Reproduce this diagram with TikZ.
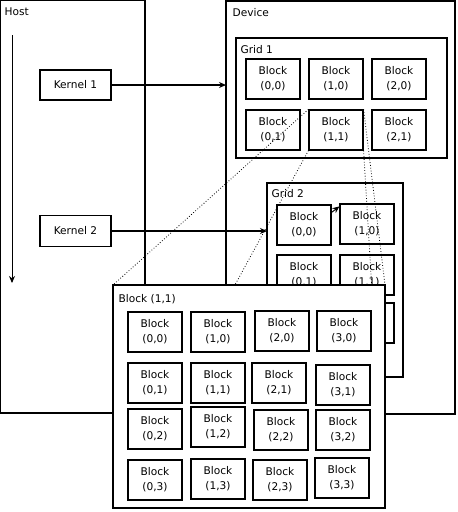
\documentclass[tikz,border=0pt]{standalone}
\usepackage{fontspec}
\setmainfont{DejaVu Sans}
\usetikzlibrary{arrows.meta,backgrounds}
\begin{document}
\begin{tikzpicture}[x=1pt, y=-1pt, line width=1.2pt,
    box/.style={draw, inner sep=0pt, outer sep=0pt, anchor=north west},
    blk/.style={draw, inner sep=0pt, minimum width=54pt, minimum height=40pt, align=center, font=\fontsize{10.6}{15}\selectfont},
    lbl/.style={anchor=base west, inner sep=0pt, font=\fontsize{10.6}{12}\selectfont},
    arr/.style={-{Stealth[length=7pt, width=6pt]}}]
  \useasboundingbox (0,0) rectangle (458,512);

  % host side
  \node[box, minimum width=145pt, minimum height=413pt] (host) at (0,0) {};
  \node[lbl] (hostlbl) at (4,15) {Host};
  \node[box, anchor=center, minimum width=71pt, minimum height=30pt, font=\fontsize{10.6}{12}\selectfont] (k1) at (75.5,85) {Kernel 1};
  \node[box, anchor=center, minimum width=71pt, minimum height=31pt, font=\fontsize{10.6}{12}\selectfont] (k2) at (75.5,231) {Kernel 2};
  \coordinate (tl0) at (12,35);
  \coordinate (tl1) at (12,283);
  \draw[arr, line width=0.9pt] (tl0) -- (tl1);

  % device side
  \node[box, minimum width=229pt, minimum height=413pt] (dev) at (226,1) {};
  \node[lbl] (devlbl) at (232,16) {Device};

  \node[box, minimum width=211pt, minimum height=120pt] (g1) at (236,38) {};
  \node[lbl] (g1lbl) at (240,53) {Grid 1};
  \node[blk] (g1b00) at (273,79) {Block\\(0,0)};
  \node[blk] (g1b10) at (336,79) {Block\\(1,0)};
  \node[blk] (g1b20) at (399,79) {Block\\(2,0)};
  \node[blk] (g1b01) at (273,130) {Block\\(0,1)};
  \node[blk] (g1b11) at (336,130) {Block\\(1,1)};
  \node[blk] (g1b21) at (399,130) {Block\\(2,1)};

  \node[box, minimum width=136pt, minimum height=194pt] (g2) at (267,183) {};
  \node[lbl] (g2lbl) at (271,197) {Grid 2};
  \node[blk] (g2b00) at (304,225) {Block\\(0,0)};
  \node[blk] (g2b10) at (367,224) {Block\\(1,0)};
  \node[blk] (g2b01) at (304,275) {Block\\(0,1)};
  \node[blk] (g2b11) at (367,275) {Block\\(1,1)};
  \node[blk] (g2b02) at (304,323) {};
  \node[blk] (g2b12) at (367,323) {};

  \draw[arr, line width=1.6pt] (k1) -- (k1 -| dev.west);
  \draw[arr, line width=1.6pt] (k2) -- (k2 -| g2.west);
  \draw[arr, line width=0.9pt] ([yshift=-8pt]g2b00.north east) -- ([yshift=-3pt]g2b10.north west);

  % zoomed block
  \node[box, fill=white, minimum width=272pt, minimum height=223pt] (bb) at (113,285) {};
  \node[lbl] (bblbl) at (118,302) {Block (1,1)};
  \node[blk] (b00) at (155,332) {Block\\(0,0)};
  \node[blk] (b10) at (218,332) {Block\\(1,0)};
  \node[blk] (b20) at (282,331) {Block\\(2,0)};
  \node[blk] (b30) at (344,331) {Block\\(3,0)};
  \node[blk] (b01) at (155,383) {Block\\(0,1)};
  \node[blk] (b11) at (218,383) {Block\\(1,1)};
  \node[blk] (b21) at (279,383) {Block\\(2,1)};
  \node[blk] (b31) at (343,385) {Block\\(3,1)};
  \node[blk] (b02) at (155,429) {Block\\(0,2)};
  \node[blk] (b12) at (218,427) {Block\\(1,2)};
  \node[blk] (b22) at (281,430) {Block\\(2,2)};
  \node[blk] (b32) at (343,430) {Block\\(3,2)};
  \node[blk] (b03) at (155,480) {Block\\(0,3)};
  \node[blk] (b13) at (218,479) {Block\\(1,3)};
  \node[blk] (b23) at (280,480) {Block\\(2,3)};
  \node[blk] (b33) at (342,478) {Block\\(3,3)};

  \begin{pgfonlayer}{background}
    \draw[dotted, line width=0.8pt] (g1b11.north west) -- (bb.north west);
    \draw[dotted, line width=0.8pt] (g1b11.south west) -- (bb.south west);
    \draw[dotted, line width=0.8pt] (g1b11.north east) -- (bb.north east);
    \draw[dotted, line width=0.8pt] (g1b11.south east) -- (bb.south east);
  \end{pgfonlayer}
\end{tikzpicture}
\end{document}
